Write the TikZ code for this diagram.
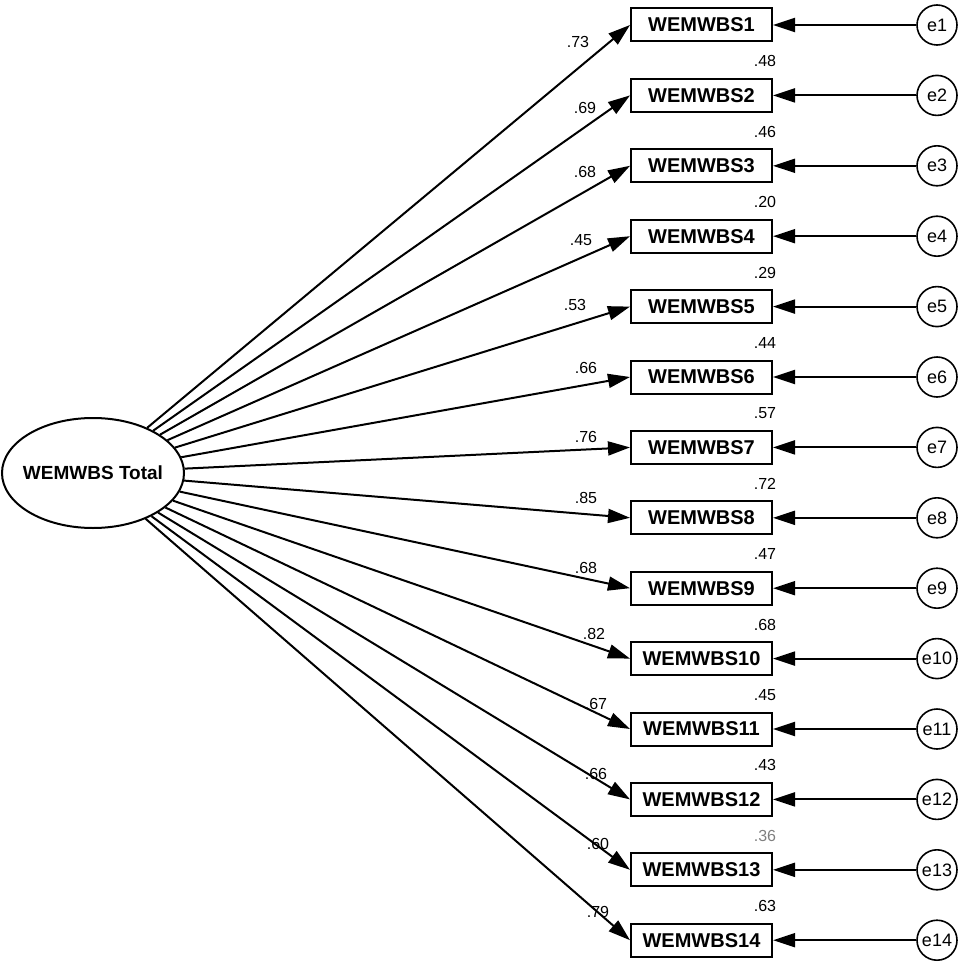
\documentclass[tikz,border=0pt]{standalone}
\usepackage{fontspec}
\setmainfont{Liberation Sans}
\usetikzlibrary{arrows.meta,shapes.geometric}
\begin{document}
\begin{tikzpicture}[x=1pt,y=-1pt,
  box/.style={draw,line width=2pt,minimum width=141pt,minimum height=33pt,inner sep=0pt,font=\bfseries\fontsize{20}{20}\selectfont},
  err/.style={draw,circle,line width=1.6pt,minimum size=40pt,inner sep=0pt,font=\fontsize{18}{18}\selectfont},
  arr/.style={line width=2pt,-{Triangle[length=22pt,width=14pt]}},
  lab/.style={font=\fontsize{16}{16}\selectfont,inner sep=0pt}]
\useasboundingbox (0,0) rectangle (966,963);
\node[draw,ellipse,line width=2pt,minimum width=182pt,minimum height=110pt,inner sep=0pt] (tot) at (93,473) {};
\node[font=\bfseries\fontsize{19}{19}\selectfont,inner sep=0pt] (totlab) at (93,473) {WEMWBS Total};
\foreach \i/\ld/\lx/\ly/\rs in {1/.73/578/42/,2/.69/585/108/.48,3/.68/585/172/.46,4/.45/581/240/.20,5/.53/575/305/.29,6/.66/586/368/.44,7/.76/586/437/.57,8/.85/586/498/.72,9/.68/586/568/.47,10/.82/594/634/.68,11/.67/596/704/.45,12/.66/596/774/.43,13/.60/598/844/.36,14/.79/598/912/.63}{
  \pgfmathsetmacro{\yy}{25+(\i-1)*70.4}
  \node[box] (b\i) at (701.5,\yy) {WEMWBS\i};
  \node[err] (e\i) at (937,\yy) {e\i};
  \draw[arr] (e\i) -- (b\i);
  \draw[arr] (tot) -- (b\i.west);
  \node[lab] (l\i) at (\lx,\ly) {\ld};
  \ifnum\i=13
    \node[lab,text=gray] (r\i) at (765,\yy-34) {\rs};
  \else
    \node[lab] (r\i) at (765,\yy-34) {\rs};
  \fi
}
\end{tikzpicture}
\end{document}
